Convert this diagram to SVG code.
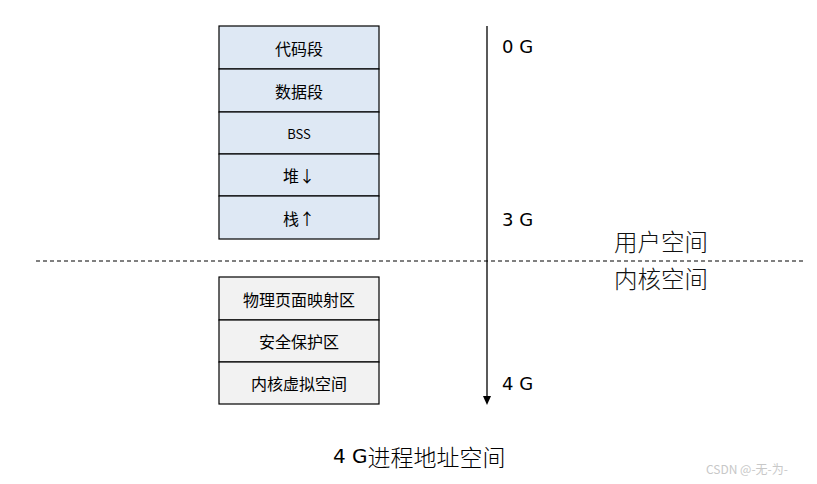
<svg xmlns="http://www.w3.org/2000/svg" width="817" height="484" viewBox="0 0 817 484">
<style>
.u{fill:#dee8f4;stroke:#000;stroke-width:1.2}
.k{fill:#f2f2f2;stroke:#000;stroke-width:1.2}
.t{font-family:"Noto Sans CJK SC","Liberation Sans",sans-serif;font-size:16px;fill:#000;text-anchor:middle;dominant-baseline:central}
.g{font-family:"DejaVu Sans","Noto Sans",sans-serif;font-size:18px;fill:#000;dominant-baseline:central}
.z{font-family:"Noto Sans CJK SC",sans-serif;font-size:23.5px;fill:#111;font-weight:300;dominant-baseline:central}
</style>
<rect width="817" height="484" fill="#fff"/>
<g id="user-space">
<g id="n-code"><rect class="u" x="219" y="26" width="160" height="43"/><text class="t" x="299" y="47.5">代码段</text></g>
<g id="n-data"><rect class="u" x="219" y="69" width="160" height="43"/><text class="t" x="299" y="90.5">数据段</text></g>
<g id="n-bss"><rect class="u" x="219" y="112" width="160" height="42"/><text class="t" x="299" y="133" style="font-size:13px">BSS</text></g>
<g id="n-heap"><rect class="u" x="219" y="154" width="160" height="42"/><text class="t" x="299" y="175">堆↓</text></g>
<g id="n-stack"><rect class="u" x="219" y="196" width="160" height="43"/><text class="t" x="299" y="217.5">栈↑</text></g>
</g>
<g id="kernel-space">
<g id="n-phys"><rect class="k" x="219" y="277" width="160" height="43"/><text class="t" x="299" y="298.5">物理页面映射区</text></g>
<g id="n-prot"><rect class="k" x="219" y="320" width="160" height="42"/><text class="t" x="299" y="341">安全保护区</text></g>
<g id="n-kvirt"><rect class="k" x="219" y="362" width="160" height="42"/><text class="t" x="299" y="383">内核虚拟空间</text></g>
</g>
<g id="connectors">
<line x1="487" y1="26" x2="487" y2="397" stroke="#000" stroke-width="1.3"/>
<path d="M483,396 L487,405 L491,396 Z" fill="#000"/>
<line x1="36" y1="261" x2="806" y2="261" stroke="#000" stroke-width="1" stroke-dasharray="4,3"/>
</g>
<g id="labels">
<text class="g" x="502" y="46">0 G</text>
<text class="g" x="502" y="219">3 G</text>
<text class="g" x="502" y="383">4 G</text>
<text class="z" x="614" y="241">用户空间</text>
<text class="z" x="614" y="278">内核空间</text>
<text x="333" y="456" style="font-family:'DejaVu Sans','Noto Sans CJK SC',sans-serif;font-size:20px;dominant-baseline:central;fill:#000">4 G<tspan style="font-family:'Noto Sans CJK SC',sans-serif;font-weight:300;font-size:23px">进程地址空间</tspan></text>
<text x="706" y="468" style="font-family:'Noto Sans CJK SC','Liberation Sans',sans-serif;font-size:12px;fill:#c8c8c8;dominant-baseline:central">CSDN @-无-为-</text>
</g>
</svg>
